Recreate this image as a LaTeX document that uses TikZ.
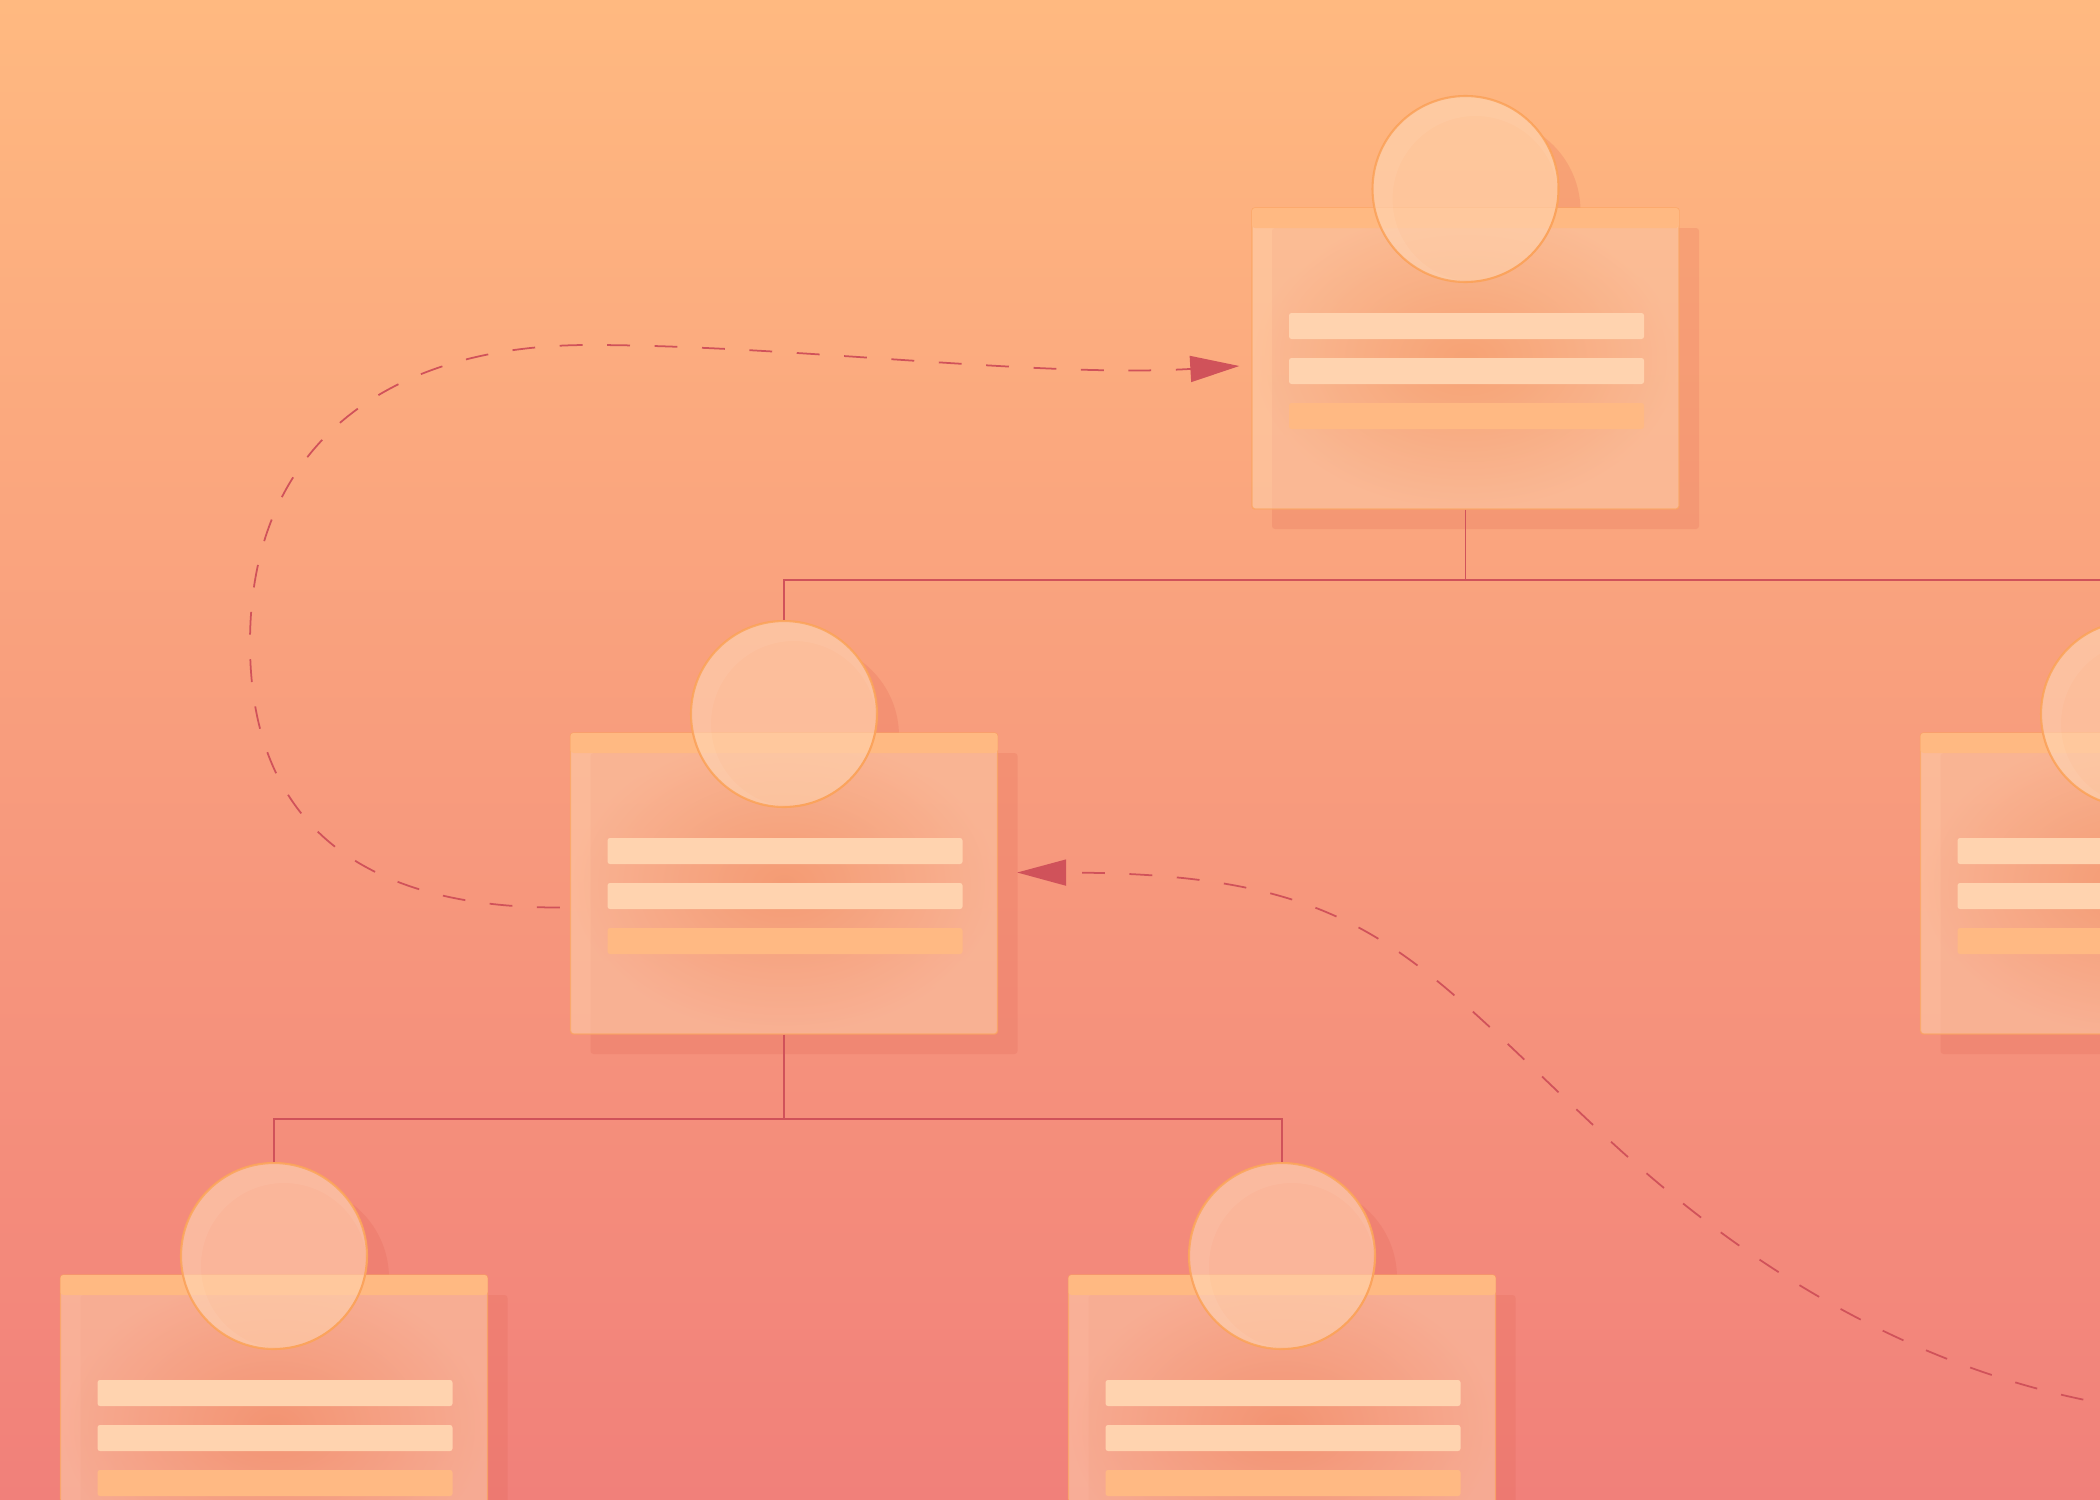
\documentclass[tikz,border=0pt]{standalone}
\usepackage{tikz}
\usetikzlibrary{arrows.meta}
\definecolor{bgtop}{HTML}{FFB980}
\definecolor{bgbot}{HTML}{F1807A}
\definecolor{glow}{HTML}{F7A874}
\definecolor{barlight}{HTML}{FFD3AF}
\definecolor{barorange}{HTML}{FFB983}
\definecolor{headc}{HTML}{FFB982}
\definecolor{ringc}{HTML}{FBA35C}
\definecolor{cardline}{HTML}{FBA35C}
\definecolor{shadowc}{HTML}{E0604F}
\definecolor{linkc}{HTML}{D0525A}

\tikzset{
  cardbox/.style={rectangle, rounded corners=0.3mm, minimum width=42.7mm, minimum height=30.1mm,
    inner color=glow, outer color=barlight, fill opacity=0.55, draw=cardline, draw opacity=0.7, line width=0.4pt},
  cardshadow/.style={rectangle, rounded corners=0.3mm, minimum width=42.7mm, minimum height=30.1mm, fill=shadowc, fill opacity=0.2},
  headstrip/.style={rectangle, rounded corners=0.3mm, minimum width=42.7mm, minimum height=2mm, inner sep=0pt, fill=headc, anchor=north},
  bar/.style={rectangle, rounded corners=0.25mm, minimum width=35.5mm, minimum height=2.6mm, inner sep=0pt, fill=barlight},
  faceshadow/.style={circle, inner sep=0pt, minimum size=18.6mm, fill=shadowc, fill opacity=0.2},
  face/.style={circle, inner sep=0pt, minimum size=18.6mm, fill=barlight, fill opacity=0.6, draw=ringc, line width=0.6pt},
  treeline/.style={draw=linkc, line width=0.5pt},
  dashlink/.style={draw=linkc, line width=0.5pt, dash pattern=on 6.5pt off 7pt, -{Triangle[length=4.9mm,width=2.6mm]}}
}

\begin{document}
\begin{tikzpicture}[x=0.1mm, y=-0.1mm]
	\useasboundingbox (0,0) rectangle (2100,1500);
	\clip (0,0) rectangle (2100,1500);
	\shade[top color=bgtop, bottom color=bgbot] (0,0) rectangle (2100,1500);
	% cards: centre of each box
	\foreach \X/\Y [count=\Z] in {1465.5/358.5, 784/883.5, 2134/883.5, 274/1425.5, 1282/1425.5}
	{
		\begin{scope}[even odd rule]
			\clip (\X-250,\Y-300) rectangle (\X+250,\Y-150.5);
			\clip (\X-250,\Y-300) rectangle (\X+250,\Y) (\X,\Y-169.5) circle (93);
			\node[faceshadow] (fs\Z) at (\X+22,\Y-147.5) {};
		\end{scope}
		\node[cardshadow] (cs\Z) at (\X+20,\Y+20) {};
		\node[cardbox] (card\Z) at (\X,\Y) {};
		\node[headstrip] (head\Z) at (card\Z.north) {};
		\node[bar] (barA\Z) at (\X+1,\Y-32.5) {};
		\node[bar] (barB\Z) at (\X+1,\Y+12.5) {};
		\node[bar, fill=barorange] (barC\Z) at (\X+1,\Y+57.5) {};
		\node[face] (face\Z) at (\X,\Y-169.5) {};
		\begin{scope}[even odd rule]
			\clip (face\Z.center) circle (93);
			\fill[white, fill opacity=0.06] (face\Z.center) circle (93) ([shift={(10,10)}]face\Z.center) circle (83);
		\end{scope}
	}
	\draw[treeline] (card1.south) -- ++(0,70) coordinate (bus1) -| (face2.north) (bus1) -| (face3.north);
	\draw[treeline] (card2.south) -- ++(0,84) coordinate (bus2) -| (face4.north) (bus2) -| (face5.north);
	% dashed links
	\coordinate (tail) at (2130,1408);
	\draw[dashlink] ([xshift=-1mm,yshift=-2.4mm]card2.west) .. controls (361,908) and (250,823) .. (250,643)
		.. controls (250,443) and (389,345) .. (589,345) .. controls (789,345) and (1040,378) .. ([xshift=-1.2mm,yshift=-0.75mm]card1.west);
	\draw[dashlink] (tail) .. controls (1930,1378) and (1757,1277) .. (1607,1138)
		.. controls (1407,952) and (1364,873) .. ([xshift=1.9mm,yshift=1.1mm]card2.east);
\end{tikzpicture}
\end{document}
